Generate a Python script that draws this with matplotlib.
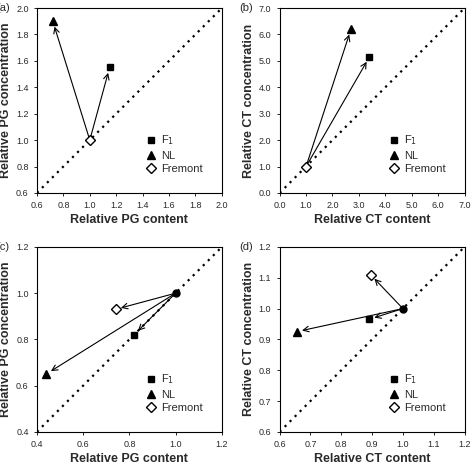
import matplotlib
matplotlib.use("Agg")
import matplotlib.pyplot as plt

plt.rcParams['font.family'] = ['Liberation Sans', 'DejaVu Sans']

# (x, y) per genotype, per panel
panel_labels = ["(a)", "(b)", "(c)", "(d)"]
xlabels = ["Relative PG content", "Relative CT content", "Relative PG content", "Relative CT content"]
ylabels = ["Relative PG concentration", "Relative CT concentration",
           "Relative PG concentration", "Relative CT concentration"]
limits = [(0.6, 2.0), (0.0, 7.0), (0.4, 1.2), (0.6, 1.2)]
tick_steps = [0.2, 1.0, 0.2, 0.1]
origin = [(1.0, 1.0), (1.0, 1.0), (1.0, 1.0), (1.0, 1.0)]
origin_dot = [False, False, True, True]
f1_pts = [(1.15, 1.55), (3.4, 5.15), (0.82, 0.82), (0.89, 0.965)]
nl_pts = [(0.72, 1.90), (2.7, 6.2), (0.44, 0.65), (0.655, 0.925)]
fremont_pts = [(1.0, 1.0), (1.0, 1.0), (0.74, 0.93), (0.895, 1.11)]

boxes = [(0.078, 0.593), (0.59, 0.593), (0.078, 0.089), (0.59, 0.089)]
W, H = 0.39, 0.39
ink = "#2a2a2a"

fig = plt.figure(figsize=(4.74, 4.74), dpi=100)
for i in range(4):
    ax = fig.add_axes([boxes[i][0], boxes[i][1], W, H])
    lo, hi = limits[i]
    ax.plot([lo, hi], [lo, hi], ls=(0, (1, 2.2)), lw=1.6, color="black", zorder=1)
    ox, oy = origin[i]
    for p in (f1_pts[i], nl_pts[i], fremont_pts[i]):
        if p == (ox, oy):
            continue
        ax.annotate("", xy=p, xytext=(ox, oy),
                    arrowprops=dict(arrowstyle="->", lw=0.8, color="black",
                                    shrinkA=0, shrinkB=4), zorder=2)
    if origin_dot[i]:
        ax.plot(ox, oy, "o", color="black", ms=5, zorder=3)
    ax.plot(*f1_pts[i], "s", color="black", ms=5, zorder=3, label="F$_1$")
    ax.plot(*nl_pts[i], "^", color="black", ms=6, zorder=3, label="NL")
    ax.plot(*fremont_pts[i], "D", mfc="white", mec="black", ms=5, zorder=3, label="Fremont")
    ax.set_xlim(lo, hi)
    ax.set_ylim(lo, hi)
    step = tick_steps[i]
    n = int(round((hi - lo) / step))
    ticks = [lo + k * step for k in range(n + 1)]
    ax.set_xticks(ticks)
    ax.set_yticks(ticks)
    ax.set_xticklabels([f"{t:.1f}" for t in ticks])
    ax.set_yticklabels([f"{t:.1f}" for t in ticks])
    ax.tick_params(labelsize=6.5, length=2.5, width=0.6, labelcolor=ink)
    for s in ax.spines.values():
        s.set_linewidth(0.8)
    ax.set_xlabel(xlabels[i], fontsize=9, fontweight="bold", labelpad=3, color=ink)
    ax.set_ylabel(ylabels[i], fontsize=9, fontweight="bold", labelpad=3, color=ink)
    leg = ax.legend(loc="lower right", frameon=False, fontsize=8, handletextpad=0.3,
                    borderaxespad=1.3, labelspacing=0.3, handlelength=1.2)
    for t in leg.get_texts():
        t.set_color(ink)
    ax.text(-0.22, 1.0, panel_labels[i], transform=ax.transAxes, fontsize=8,
            ha="left", va="center", color=ink)

fig.savefig("out.png", dpi=100, facecolor="white")
